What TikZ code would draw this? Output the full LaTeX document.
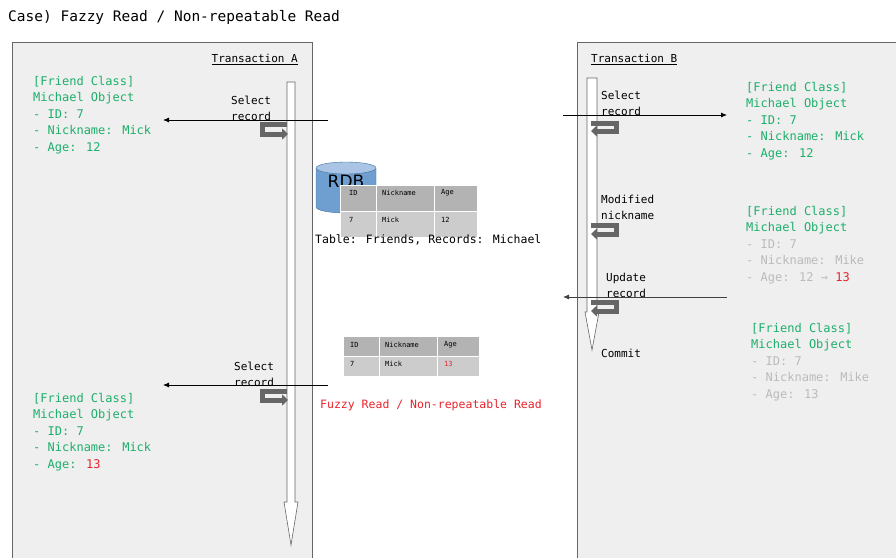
\documentclass[tikz,border=0pt]{standalone}
\usepackage{fontspec}
\setmainfont{DejaVu Sans Mono}
\newfontfamily\sans{DejaVu Sans}
\usetikzlibrary{arrows.meta,shapes.geometric}
\definecolor{grn}{HTML}{1DAF6A}
\definecolor{gry}{HTML}{BBBBBB}
\definecolor{red1}{HTML}{E8222C}
\definecolor{panel}{HTML}{EFEFEF}
\definecolor{hdr}{HTML}{B3B3B3}
\definecolor{cel}{HTML}{CCCCCC}
\definecolor{dbfill}{HTML}{6F9FD0}
\definecolor{dbtop}{HTML}{A9C4E4}
\definecolor{dbline}{HTML}{41719C}
\begin{document}
\begin{tikzpicture}[x=1pt,y=-1pt,
 txt/.style={anchor=north west,inner sep=0pt,align=left,font=\fontsize{12}{16.5}\selectfont},
 lbl/.style={anchor=north west,inner sep=0pt,align=left,font=\fontsize{11}{16}\selectfont},
 msg/.style={-{Latex[length=6pt,width=5pt]},line width=0.8pt},
 icon/.style={line width=5pt,draw=black!60,-{Triangle[length=6pt,width=11pt]}},
 panelbox/.style={draw=black!60,fill=panel},
 life/.style={draw=black!60,fill=white,line width=0.6pt}]
\useasboundingbox (0,0) rectangle (896,558);
\node[anchor=north west,inner sep=0pt,font=\fontsize{14.5}{16}\selectfont] (title) at (8,10) {Case) Fazzy Read / Non-repeatable Read};
\fill[panel] (12,42) rectangle (312,558);
\draw[draw=black!60] (12,558) -- (12,42) -- (312,42) -- (312,558);
\fill[panel] (577,42) rectangle (896,558);
\draw[draw=black!60] (577,558) -- (577,42) -- (896,42);
\node[lbl,anchor=north east] (ta) at (298,54) {\underline{Transaction A}};
\node[lbl] (tb) at (591,54) {\underline{Transaction B}};
% lifelines
\draw[life] (287,82) -- (295,82) -- (295,502) -- (298,502) -- (291,545) -- (284,502) -- (287,502) -- cycle;
\draw[life] (587,78) -- (597,78) -- (597,312) -- (599,312) -- (592,350) -- (585,312) -- (587,312) -- cycle;
% left texts
\node[txt,text=grn] (a1) at (33,76) {[Friend Class]\\Michael Object\\- ID: 7\\- Nickname: Mick\\- Age: 12};
\node[txt,text=grn] (a2) at (33,393) {[Friend Class]\\Michael Object\\- ID: 7\\- Nickname: Mick\\- Age: \textcolor{red1}{13}};
\node[txt,text=grn] (b1) at (746,82) {[Friend Class]\\Michael Object\\- ID: 7\\- Nickname: Mick\\- Age: 12};
\node[txt,text=grn] (b2) at (746,206) {[Friend Class]\\Michael Object\\\textcolor{gry}{- ID: 7}\\\textcolor{gry}{- Nickname: Mike}\\\textcolor{gry}{- Age: 12 → }\textcolor{red1}{13}};
\node[txt,text=grn] (b3) at (751,323) {[Friend Class]\\Michael Object\\\textcolor{gry}{- ID: 7}\\\textcolor{gry}{- Nickname: Mike}\\\textcolor{gry}{- Age: 13}};
% labels
\node[lbl] (l1) at (231,96) {Select\\record};
\node[lbl] (l2) at (601,91) {Select\\record};
\node[lbl] (l3) at (601,195) {Modified\\nickname};
\node[lbl] (l4) at (606,273) {Update\\record};
\node[lbl] (l5) at (601,349) {Commit};
\node[lbl] (l6) at (234,362) {Select\\record};
% icons
\draw[icon] (287,124) -- (262,124) -- (262,134) -- (288,134);
\draw[icon] (287,391) -- (262,391) -- (262,400) -- (288,400);
\draw[icon] (591,123) -- (616,123) -- (616,131) -- (591,131);
\draw[icon] (591,225) -- (616,225) -- (616,234) -- (591,234);
\draw[icon] (591,302) -- (616,302) -- (616,311) -- (591,311);
% messages
\coordinate (m1s) at (328,120); \coordinate (m1e) at (163,120);
\coordinate (m2s) at (563,115); \coordinate (m2e) at (727,115);
\coordinate (m3s) at (727,297); \coordinate (m3e) at (563,297);
\coordinate (m4s) at (328,385); \coordinate (m4e) at (163,385);
\draw[msg] (m1s) -- (m1e);
\draw[msg] (m2s) -- (m2e);
\draw[msg,draw=black!75] (m3s) -- (m3e);
\draw[msg] (m4s) -- (m4e);
% DB
\draw[draw=dbline,fill=dbfill] (316,168) -- (316,207) arc[start angle=180,end angle=360,x radius=30pt,y radius=6pt] -- (376,168);
\draw[draw=dbline,fill=dbtop] (346,168) ellipse (30pt and 6pt);
\node[font=\sans\fontsize{17}{17}\selectfont,inner sep=0pt] (rdb) at (346,181) {RDB};
% tables
\begin{scope}[draw=white,line width=1pt]
\filldraw[fill=hdr] (340,185) rectangle (376,211); \filldraw[fill=hdr] (376,185) rectangle (434,211); \filldraw[fill=hdr] (434,185) rectangle (477,211);
\filldraw[fill=cel] (340,211) rectangle (376,237); \filldraw[fill=cel] (376,211) rectangle (434,237); \filldraw[fill=cel] (434,211) rectangle (477,237);
\filldraw[fill=hdr] (343,336) rectangle (379,356); \filldraw[fill=hdr] (379,336) rectangle (437,356); \filldraw[fill=hdr] (437,336) rectangle (479,356);
\filldraw[fill=cel] (343,356) rectangle (379,376); \filldraw[fill=cel] (379,356) rectangle (437,376); \filldraw[fill=cel] (437,356) rectangle (479,376);
\end{scope}
\begin{scope}[every node/.style={anchor=west,inner sep=0pt,font=\fontsize{7}{8}\selectfont}]
\node (t1) at (349,193) {ID}; \node (t2) at (382,193) {Nickname}; \node (t3) at (441,193) {Age};
\node (t4) at (349,220) {7}; \node (t5) at (382,220) {Mick}; \node (t6) at (441,220) {12};
\node (u1) at (350,345) {ID}; \node (u2) at (385,345) {Nickname}; \node (u3) at (444,345) {Age};
\node (u4) at (350,364) {7}; \node (u5) at (385,364) {Mick}; \node[text=red1] (u6) at (444,364) {13};
\end{scope}
\node[lbl,font=\fontsize{11.5}{14}\selectfont] (cap) at (315,234) {Table: Friends, Records: Michael};
\node[lbl,text=red1,font=\fontsize{11.5}{14}\selectfont] (fz) at (320,399) {Fuzzy Read / Non-repeatable Read};
\end{tikzpicture}
\end{document}
